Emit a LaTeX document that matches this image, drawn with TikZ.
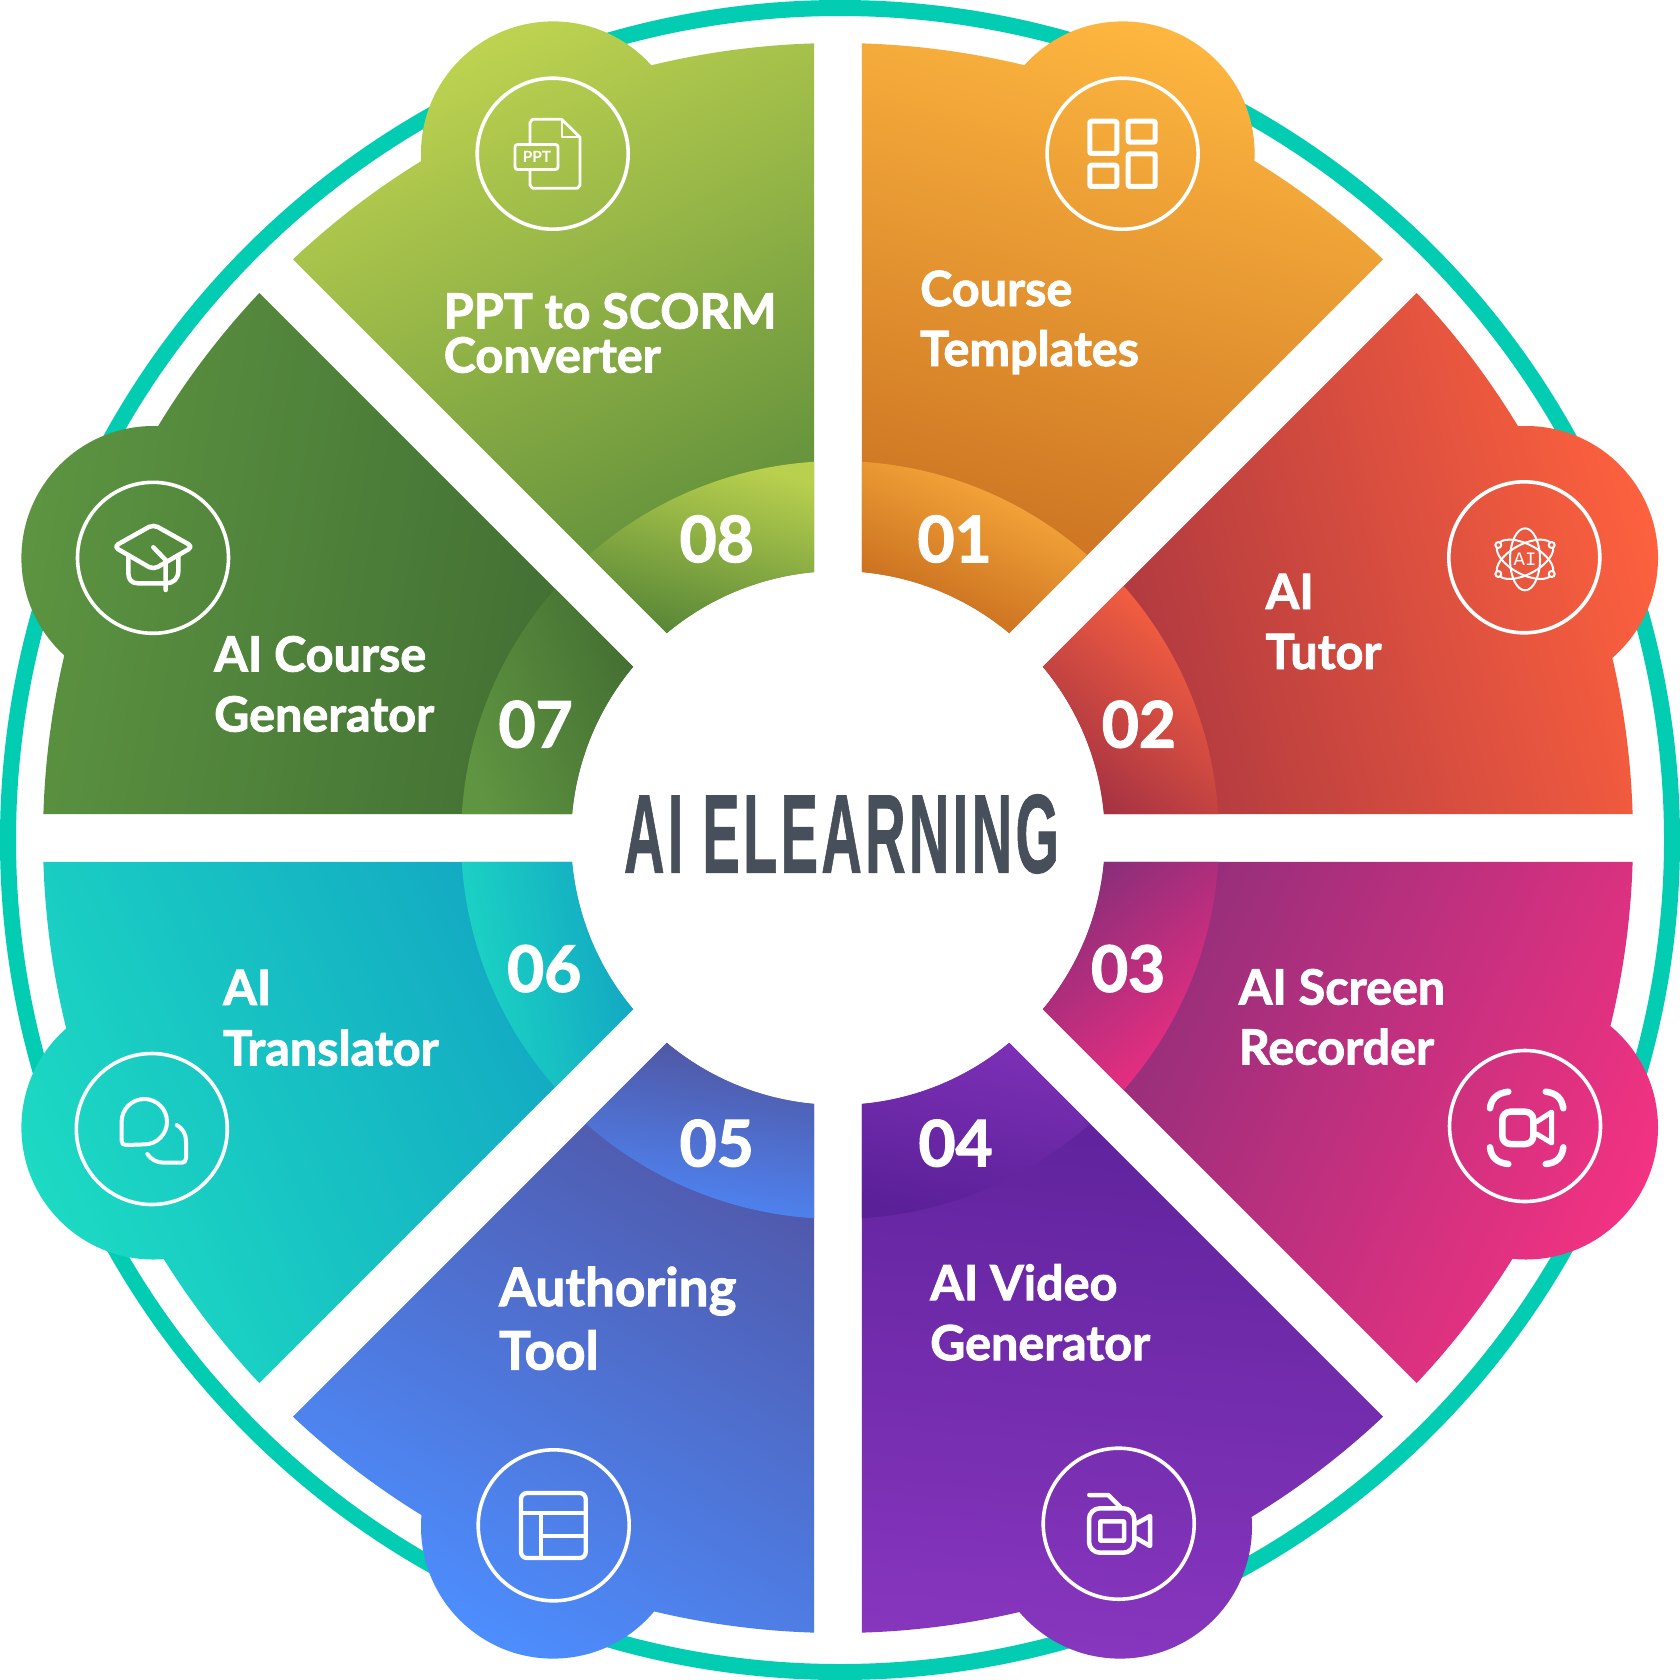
\documentclass[tikz,border=0pt]{standalone}
\usepackage{fontspec}
\usepackage{graphicx}
\setmainfont{Lato}
\newfontfamily\labfont[FakeBold=1.9]{Lato Bold}
\newfontfamily\titlefont[FakeBold=1,LetterSpace=6]{Liberation Sans Bold}
\newfontfamily\monofont{Liberation Mono}
\def\gp{23.8}
\newcommand{\wedgeshape}[3]{%
 ({838+#3*cos(#1+asin(\gp/#3))},{838+#3*sin(#1+asin(\gp/#3))}) arc[start angle={#1+asin(\gp/#3)}, end angle={#1+45-asin(\gp/#3)}, radius=#3]
 -- ({838+#2*cos(#1+45-asin(\gp/#2))},{838+#2*sin(#1+45-asin(\gp/#2))}) arc[start angle={#1+45-asin(\gp/#2)}, end angle={#1+asin(\gp/#2)}, radius=#2] -- cycle}
\newcommand{\lobeshape}[2]{({#1+132},#2) arc[start angle=0, end angle=360, radius=132] -- cycle}
\tikzset{
 ring/.style={draw=white,line width=3.6pt},
 ico/.style={draw=white,line width=#1,line cap=round,line join=round,fill=none},
 ico/.default=2.8pt,
 lab/.style={text=white,anchor=base west,inner sep=0pt,font=\labfont\fontsize{48.5}{56}\selectfont},
 num/.style={text=white,anchor=center,inner sep=0pt,font=\labfont\fontsize{64}{70}\selectfont},
}
\definecolor{teal}{HTML}{02CDB3}
\begin{document}
\begin{tikzpicture}[x=1pt,y=-1pt]
\useasboundingbox (0,0) rectangle (1680,1680);
\fill[white] (0,0) rectangle (1680,1680);
\draw[teal,line width=16pt] (840,840) circle[radius=832];
% sectors
\shade[top color={rgb,255:red,253;green,182;blue,63},bottom color={rgb,255:red,200;green,110;blue,32},shading angle=-15] \wedgeshape{-90}{267}{795} \lobeshape{1122.6}{153.4};
\shade[top color={rgb,255:red,253;green,97;blue,62},bottom color={rgb,255:red,168;green,53;blue,64},shading angle=-75] \wedgeshape{-45}{267}{795} \lobeshape{1526}{558};
\shade[top color={rgb,255:red,243;green,50;blue,130},bottom color={rgb,255:red,140;green,46;blue,122},shading angle=-115] \wedgeshape{0}{267}{795} \lobeshape{1526}{1127.5};
\shade[top color={rgb,255:red,135;green,54;blue,190},bottom color={rgb,255:red,90;green,32;blue,152},shading angle=175] \wedgeshape{45}{267}{795} \lobeshape{1120}{1526.6};
\shade[top color={rgb,255:red,77;green,142;blue,255},bottom color={rgb,255:red,80;green,85;blue,165},shading angle=150] \wedgeshape{90}{267}{795} \lobeshape{553}{1526.6};
\shade[top color={rgb,255:red,28;green,218;blue,195},bottom color={rgb,255:red,18;green,165;blue,195},shading angle=115] \wedgeshape{135}{267}{795} \lobeshape{153.4}{1127.5};
\shade[top color={rgb,255:red,92;green,148;blue,65},bottom color={rgb,255:red,64;green,108;blue,50},shading angle=80] \wedgeshape{180}{267}{795} \lobeshape{153.4}{558};
\shade[top color={rgb,255:red,190;green,211;blue,80},bottom color={rgb,255:red,92;green,140;blue,58},shading angle=25] \wedgeshape{225}{267}{795} \lobeshape{553}{153.4};
% inner bands
\shade[top color={rgb,255:red,253;green,176;blue,62},bottom color={rgb,255:red,195;green,104;blue,28},shading angle=-25] \wedgeshape{-90}{267}{377};
\shade[top color={rgb,255:red,250;green,98;blue,64},bottom color={rgb,255:red,165;green,50;blue,66},shading angle=-40] \wedgeshape{-45}{267}{381};
\shade[top color={rgb,255:red,238;green,46;blue,128},bottom color={rgb,255:red,138;green,46;blue,122},shading angle=-140] \wedgeshape{0}{267}{381};
\shade[top color={rgb,255:red,125;green,48;blue,182},bottom color={rgb,255:red,90;green,32;blue,152},shading angle=-10] \wedgeshape{45}{267}{381};
\shade[top color={rgb,255:red,78;green,135;blue,248},bottom color={rgb,255:red,80;green,85;blue,160},shading angle=170] \wedgeshape{90}{267}{381};
\shade[top color={rgb,255:red,28;green,215;blue,195},bottom color={rgb,255:red,18;green,165;blue,195},shading angle=100] \wedgeshape{135}{267}{377};
\shade[top color={rgb,255:red,95;green,148;blue,65},bottom color={rgb,255:red,68;green,112;blue,50},shading angle=110] \wedgeshape{180}{267}{377};
\shade[top color={rgb,255:red,185;green,208;blue,78},bottom color={rgb,255:red,88;green,135;blue,55},shading angle=-15] \wedgeshape{225}{267}{377};
% rings
\foreach \n/\x/\y in {r1/1122.6/153.7,r2/1524.3/557.3,r3/1525/1126,r4/1118.7/1523.7,r5/553.7/1525.3,r6/151.8/1129,r7/153/557.8,r8/552.7/153.7}
  \node[ring,circle,minimum size=151pt,inner sep=0pt] (\n) at (\x,\y) {};
% icon 08 PPT
\draw[ico] (530,143.3) -- (530,122.3) to[out=-90,in=180] (533,119.3) -- (561.7,119.3) -- (580,137.3) -- (580,185.3) to[out=90,in=0] (577,188.3) -- (533,188.3) to[out=180,in=90] (530,185.3) -- (530,170.7);
\draw[ico,line width=1.6pt] (561.7,119.3) -- (561.7,137.3) -- (580,137.3);
\draw[ico,rounded corners=2.5pt] (515,144.5) rectangle (558,169.5);
\node[inner sep=0pt,text=white,font=\fontspec{Lato Bold}\fontsize{15.5}{15}\selectfont] (ppt) at (537,157.3) {PPT};
% icon 01 grid
\foreach \a/\b/\c/\d in {1089.8/121.2/1116.8/153.5,1128.2/121.2/1155.2/142.2,1089.8/165.2/1116.8/186.5,1128.2/153.8/1155.2/186.5}
  \draw[ico=5pt,rounded corners=1.2pt] (\a,\b) rectangle (\c,\d);
% icon 02 atom
\draw[ico=2pt] (1525,559.3) ellipse[x radius=15,y radius=31];
\draw[ico=2pt,rotate around={28:(1525,559.3)}] (1525,559.3) ellipse[x radius=31,y radius=15];
\draw[ico=2pt,rotate around={-28:(1525,559.3)}] (1525,559.3) ellipse[x radius=31,y radius=15];
\foreach \x/\y in {1498.3/545,1551.7/545,1498.3/574,1551.7/574}
  \draw[ico=2pt,fill={rgb,255:red,236;green,90;blue,64}] (\x,\y) circle[radius=3];
\node[inner sep=0pt,text=white,font=\monofont\fontsize{19}{19}\selectfont] (aitxt) at (1525,559.5) {AI};
% icon 03 screen recorder
\draw[ico=6.5pt] (1508.3,1091.7) .. controls (1497,1093) and (1491,1099) .. (1490,1108.3);
\draw[ico=6.5pt] (1545.7,1091.7) .. controls (1557,1093) and (1562,1099) .. (1563.3,1108.3);
\draw[ico=6.5pt] (1490,1147.3) .. controls (1491,1157) and (1497,1163) .. (1508.3,1164);
\draw[ico=6.5pt] (1563.3,1147.3) .. controls (1562,1157) and (1557,1163) .. (1545.7,1164);
\draw[ico=6.5pt,rounded corners=8pt] (1502.3,1111.7) rectangle (1533.3,1144);
\draw[ico=5pt] (1536.7,1121.7) -- (1551.7,1112) -- (1551.7,1143) -- (1536.7,1134);
% icon 04 video
\draw[ico=4.5pt] (1089.3,1495) -- (1108.3,1495) -- (1120,1506.7);
\draw[ico=4.5pt,rounded corners=11pt] (1089,1508.3) rectangle (1134.3,1552.7);
\draw[ico=4.5pt,rounded corners=.5pt] (1100.3,1521.3) rectangle (1124,1540.7);
\draw[ico=4.5pt] (1136.7,1523.3) -- (1150,1516) -- (1150,1546) -- (1136.7,1538.3);
% icon 05 layout
\draw[ico=4.3pt,rounded corners=6pt] (521,1493) rectangle (585.7,1558);
\draw[ico=4.3pt,line cap=butt] (521,1513.3) -- (585.7,1513.3) (541,1513.3) -- (541,1558) (541,1535.7) -- (585.7,1535.7);
% icon 06 chat
\draw[ico=4pt] (121.7,1121.7) -- (121.7,1141) .. controls (121.7,1143.5) and (123,1145) .. (126,1145) -- (144.3,1144.4) arc[start angle=90,end angle=-180,radius=22.7];
\draw[ico=4pt] (176.7,1125) .. controls (183,1129) and (186,1134) .. (186,1141) -- (186,1158) .. controls (186,1161) and (184.5,1162.7) .. (182,1162.7) -- (164,1162.7) .. controls (157,1162.7) and (151,1159.5) .. (147.3,1154);
% icon 07 cap
\draw[ico=4.5pt,rounded corners=5pt] (153.3,524.5) -- (193,546.7) -- (153.3,569.5) -- (113.7,546.7) -- cycle;
\draw[ico=4.5pt] (128.3,555) -- (128.3,573) .. controls (128.3,580) and (132,583.3) .. (138,583.3) -- (166,583.3) .. controls (173,583.3) and (178.3,579) .. (178.3,571) -- (178.3,555);
\draw[ico=4.5pt] (153.3,547.3) -- (165.7,560) -- (165.7,590);
% labels
\node[lab] (t1a) at (920,306) {Course};
\node[lab] (t1b) at (920,366) {Templates};
\node[lab] (t2a) at (1265.5,609) {AI};
\node[lab] (t2b) at (1265.5,669) {Tutor};
\node[lab] (t3a) at (1238.6,1004.5) {AI Screen};
\node[lab] (t3b) at (1238.6,1064.5) {Recorder};
\node[lab] (t4a) at (930,1300.2) {AI Video};
\node[lab] (t4b) at (930,1360.2) {Generator};
\node[lab,font=\labfont\fontsize{53}{60}\selectfont] (t5a) at (499,1306) {Authoring};
\node[lab,font=\labfont\fontsize{53}{60}\selectfont] (t5b) at (499,1369.5) {Tool};
\node[lab] (t6a) at (223,1005) {AI};
\node[lab] (t6b) at (223,1065.5) {Translator};
\node[lab] (t7a) at (214,671.5) {AI Course};
\node[lab] (t7b) at (214,731.5) {Generator};
\node[lab] (t8a) at (443.6,328.5) {PPT to SCORM};
\node[lab] (t8b) at (443.6,372.5) {Converter};
% numbers
\foreach \n/\t/\x/\y in {n1/01/954.6/539,n2/02/1138.9/724.3,n3/03/1128.1/968.6,n4/04/955.6/1143.2,n5/05/716.7/1143.2,n6/06/544.2/968.6,n7/07/535.6/724.3,n8/08/716.7/539}
  \node[num] (\n) at (\x,\y) {\t};
% title
\node[inner sep=0pt,text={rgb,255:red,71;green,79;blue,91}] (title) at (841.6,834) {\resizebox{435pt}{78pt}{\titlefont AI ELEARNING}};
\end{tikzpicture}
\end{document}
